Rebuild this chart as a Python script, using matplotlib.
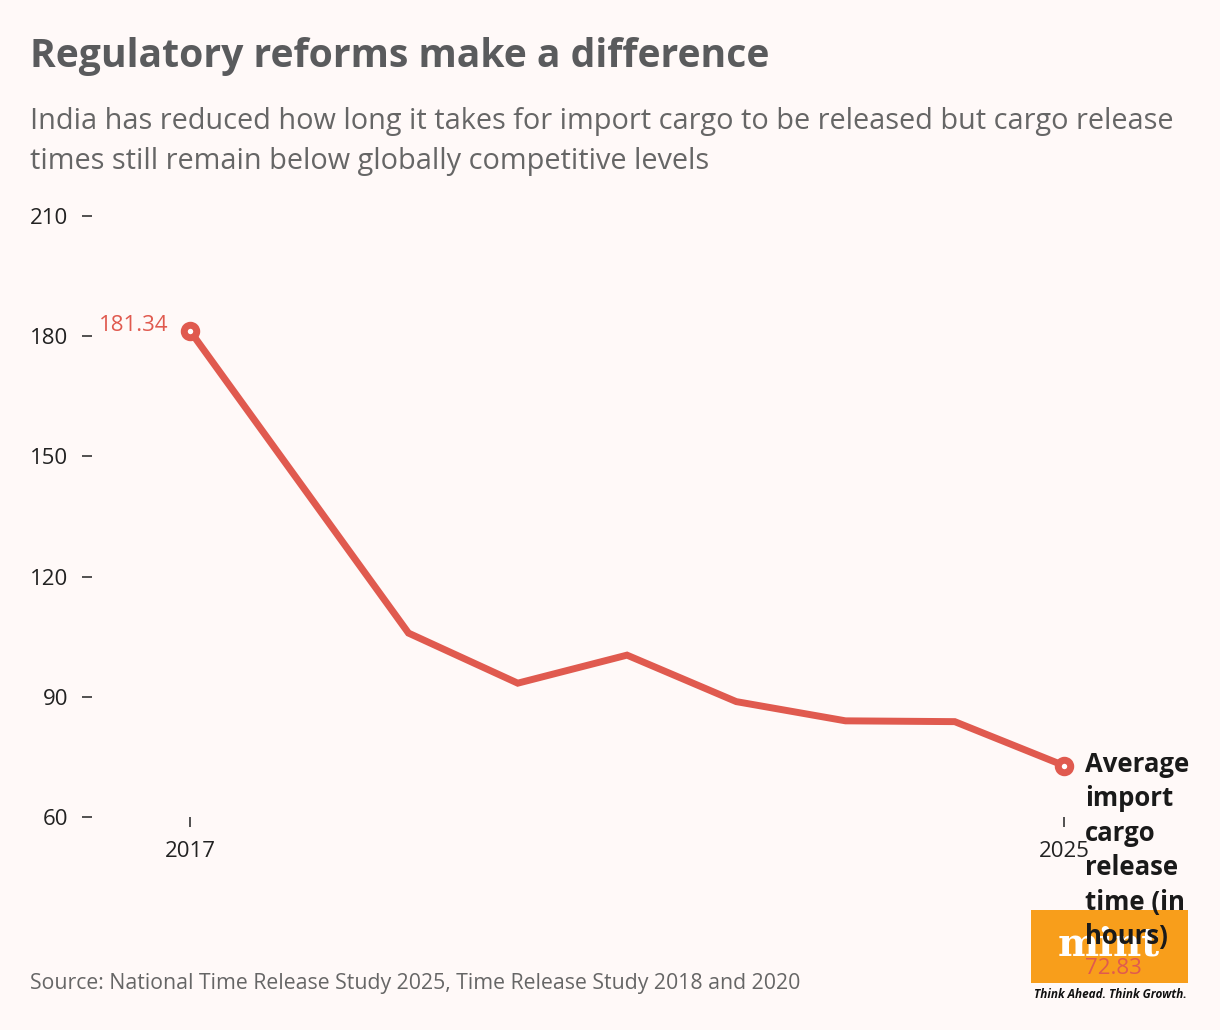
import matplotlib
matplotlib.use("Agg")
import matplotlib.pyplot as plt
from matplotlib.patches import Rectangle

# data (hours)
years = [2017, 2019, 2020, 2021, 2022, 2023, 2024, 2025]
release_hours = [181.34, 105.9, 93.4, 100.4, 88.8, 84.0, 83.8, 72.83]
y_ticks = [60, 90, 120, 150, 180, 210]
x_ticks = [2017, 2025]

bg = "#fff9f8"
red = "#e05a4f"
grey = "#5a5b5d"

plt.rcParams['font.family'] = ['Open Sans', 'DejaVu Sans']

W, H = 1220, 1030
fig = plt.figure(figsize=(W / 100, H / 100), dpi=100, facecolor=bg)

# axes placed in pixel terms
left_px, right_px, top_px, bottom_px = 92, 1100, 216, 817
ax = fig.add_axes([left_px / W, 1 - bottom_px / H,
                   (right_px - left_px) / W, (bottom_px - top_px) / H])
ax.set_facecolor(bg)
step = (1064 - 190) / 8
ax.set_xlim(2017 - (190 - left_px) / step, 2025 + (right_px - 1064) / step)
ax.set_ylim(60, 210)

ax.plot(years, release_hours, color=red, lw=5, solid_joinstyle='miter', zorder=3)
ax.plot([years[0], years[-1]], [release_hours[0], release_hours[-1]], ls='none',
        marker='o', ms=9, mew=5, mec=red, mfc='white', zorder=4)

for s in ax.spines.values():
    s.set_visible(False)
ax.set_yticks(y_ticks)
ax.set_xticks(x_ticks)
ax.tick_params(axis='y', length=7.2, width=1.1, pad=10, labelsize=16, colors='#222222')
ax.tick_params(axis='x', length=7.2, width=1.1, pad=10, labelsize=16, colors='#222222')

ax.annotate(f"{release_hours[0]:.2f}", (years[0], release_hours[0]),
            xytext=(-22, 5), textcoords='offset pixels', ha='right', va='center',
            color=red, fontsize=16)
ax.annotate(f"{release_hours[-1]:.2f}", (years[-1], release_hours[-1]),
            xytext=(21, -203), textcoords='offset pixels', ha='left', va='center',
            color=red, fontsize=16, zorder=6, annotation_clip=False)
ax.annotate("Average\nimport\ncargo\nrelease\ntime (in\nhours)", (years[-1], release_hours[-1]),
            xytext=(21, 15), textcoords='offset pixels', ha='left', va='top',
            color='#1a1a1a', fontsize=18.5, fontweight='bold', linespacing=1.36,
            zorder=6, annotation_clip=False)

# titles
fig.text(30 / W, 1 - 56 / H, "Regulatory reforms make a difference",
         fontsize=28.2, fontweight='bold', color=grey, va='center', ha='left')
fig.text(30 / W, 1 - 142 / H,
         "India has reduced how long it takes for import cargo to be released but cargo release\n"
         "times still remain below globally competitive levels",
         fontsize=20.8, color='#666666', va='center', ha='left', linespacing=1.5)
fig.text(30 / W, 1 - 983 / H,
         "Source: National Time Release Study 2025, Time Release Study 2018 and 2020",
         fontsize=15.3, color='#666666', va='center', ha='left')

# mint logo, kept behind the axes texts
fig.patches.append(Rectangle((1031 / W, 1 - 983 / H), 157 / W, 73 / H,
                             transform=fig.transFigure, facecolor='#f89e1b',
                             edgecolor='none', zorder=-2))
fig.text(1109 / W, 1 - 945 / H, "mint", fontsize=28, fontweight='bold',
         family='DejaVu Serif', color='white', ha='center', va='center', zorder=-1)
fig.text(1110 / W, 1 - 995 / H, "Think Ahead. Think Growth.", fontsize=8.5,
         fontweight='bold', style='italic', color='#111111', ha='center', va='center')

fig.savefig("out.png", dpi=100, facecolor=bg)
